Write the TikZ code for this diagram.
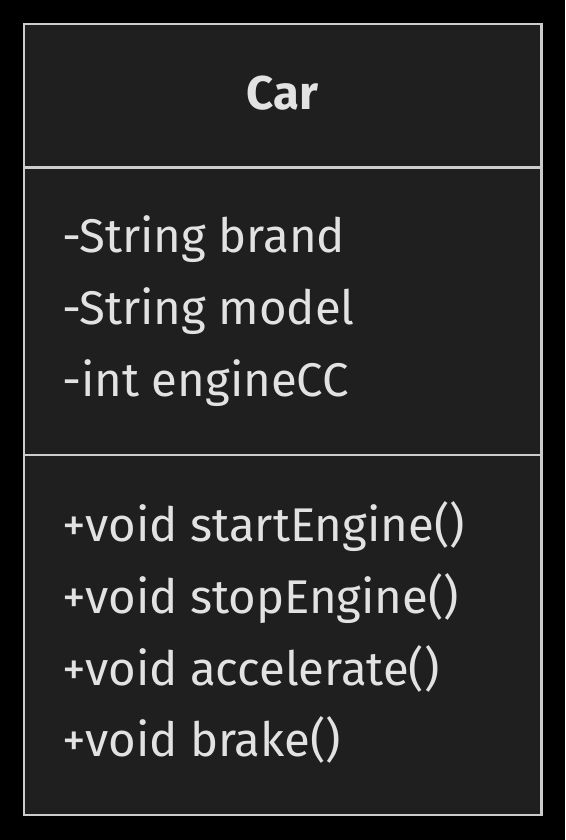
\documentclass[tikz,border=0pt]{standalone}
\usepackage{fontspec}
\setmainfont{Fira Sans}
\usetikzlibrary{positioning}

\definecolor{boxfill}{HTML}{1F1F1F}
\definecolor{boxline}{HTML}{CCCCCC}
\definecolor{boxtext}{HTML}{E2E2E2}

\begin{document}
\begin{tikzpicture}[x=1pt, y=1pt,
		member/.style={anchor=base west, inner sep=0pt, text=boxtext, font=\fontsize{47.3}{56}\selectfont},
		classname/.style={anchor=base, inner sep=0pt, text=boxtext, font=\fontsize{47.3}{56}\selectfont\bfseries}]
		% Page and background
		\fill[black] (0,0) rectangle (565,840);
		\useasboundingbox (0,0) rectangle (565,840);

		% Draw the class box
		\filldraw[fill=boxfill, draw=boxline, line width=2.5pt] (24,25) rectangle (541.5,816);
		\draw[boxline, line width=2.5pt] (24,672.7) -- (541.5,672.7);
		\draw[boxline, line width=2.5pt] (24,385) -- (541.5,385);

		% Class name
		\node[classname] (car) at (282.5,730) {Car};

		% Attributes
		\node[member] (brand) at (62,587) {-String brand};
		\node[member] (model) at (62,515) {-String model};
		\node[member] (engineCC) at (62,443) {-int engineCC};

		% Methods
		\node[member] (startEngine) at (62,298.3) {+void startEngine()};
		\node[member] (stopEngine) at (62,226.6) {+void stopEngine()};
		\node[member] (accelerate) at (62,154.9) {+void accelerate()};
		\node[member] (brake) at (62,83.2) {+void brake()};

	\end{tikzpicture}
\end{document}
